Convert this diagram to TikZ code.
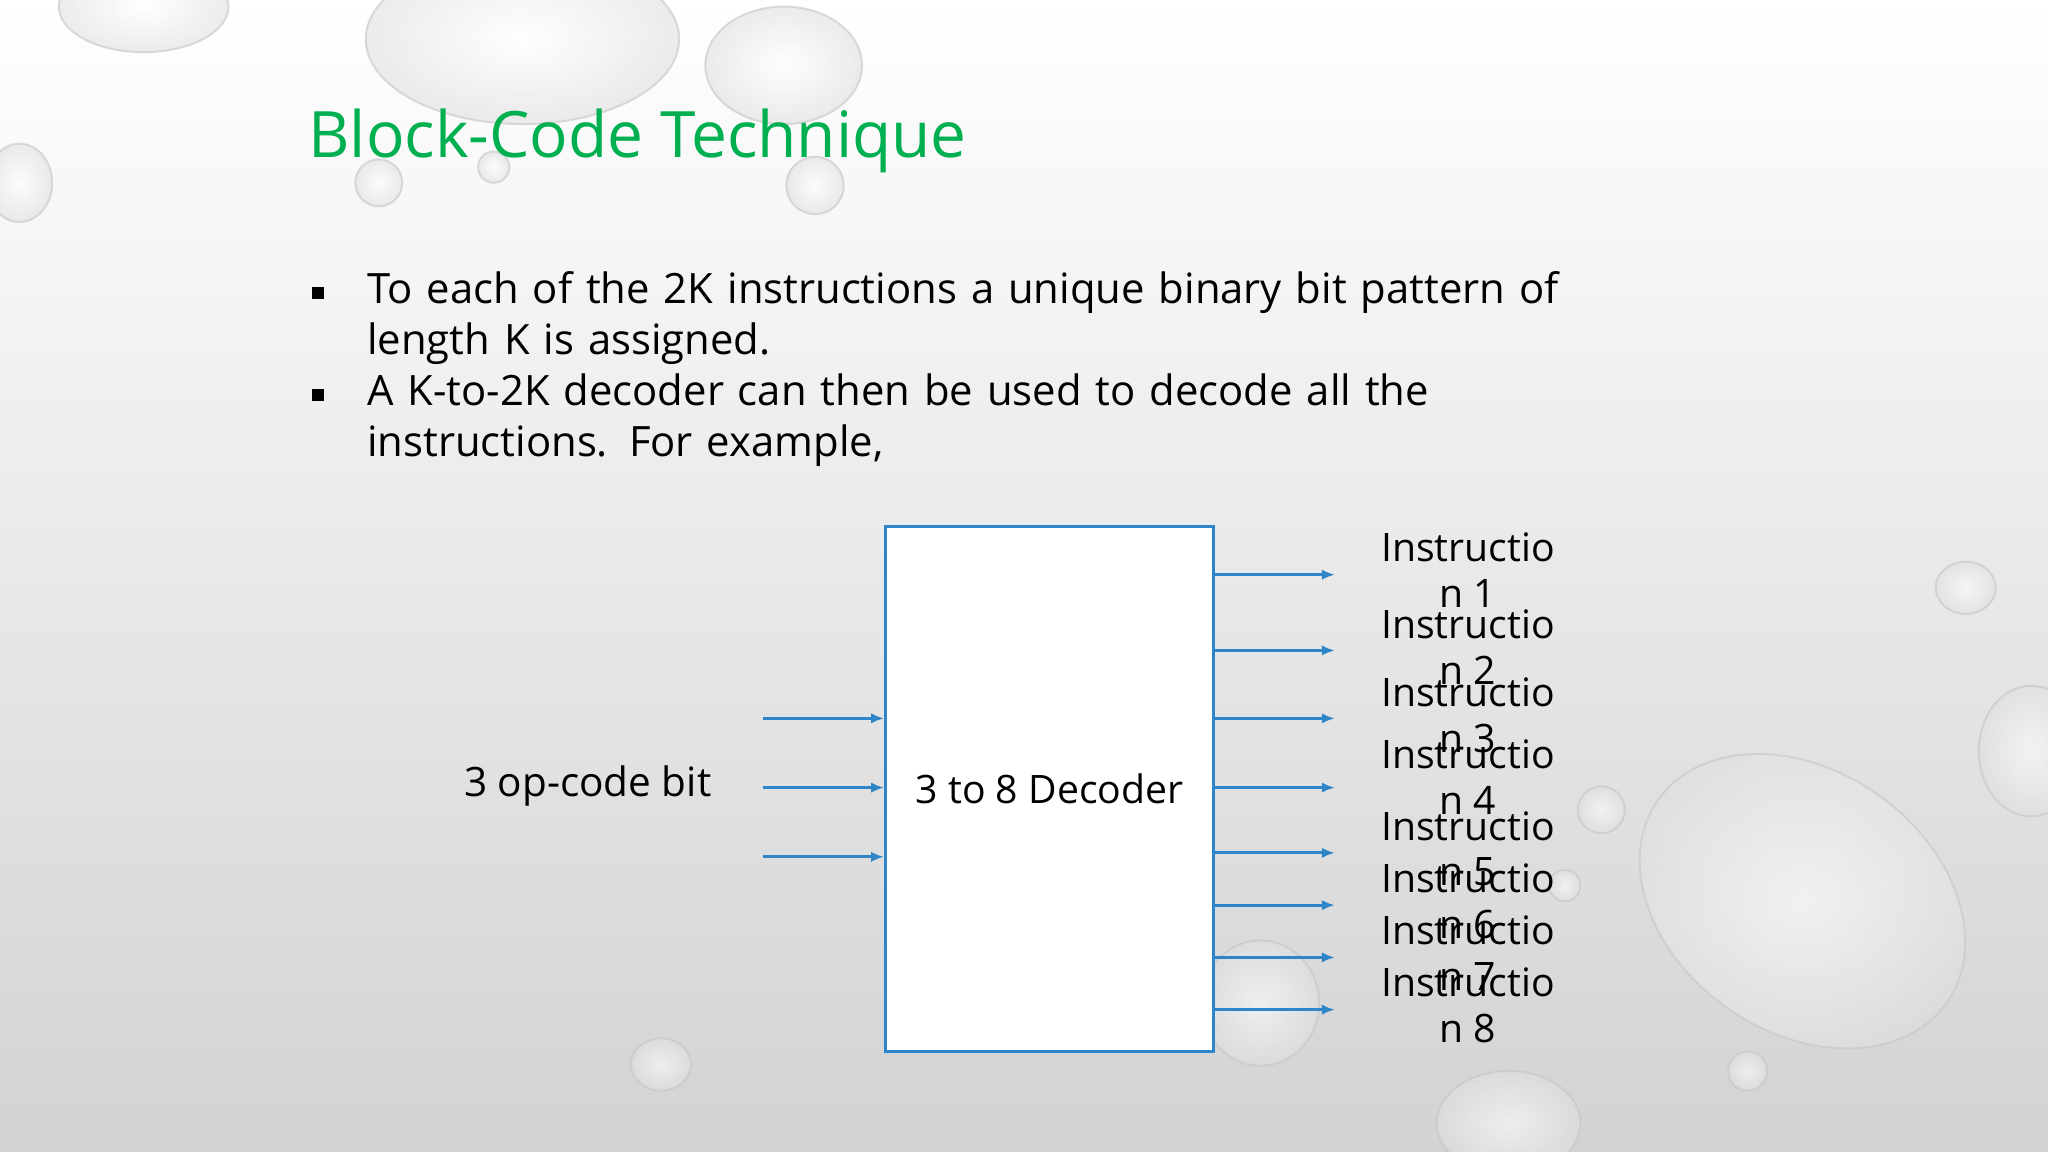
\documentclass[tikz,border=0pt]{standalone}
\usepackage{fontspec}
\setmainfont{Open Sans}
\usetikzlibrary{arrows.meta}
\definecolor{tgreen}{RGB}{0,176,80}
\definecolor{tblue}{RGB}{46,134,200}
\hyphenpenalty=10000
\exhyphenpenalty=10000
\tikzset{
  arr/.style={draw=tblue,line width=2.2pt,-{Latex[length=10pt,width=8pt]}},
  lab/.style={font=\fontsize{30}{35}\selectfont,align=center,inner sep=0},
  drop/.style={inner color=white,outer color=gray!25,draw=gray!45,line width=1.5pt,opacity=0.6},
  btext/.style={anchor=north west,font=\fontsize{32}{39}\selectfont,text width=965pt,align=left,inner sep=0}
}
\begin{document}
\begin{tikzpicture}[x=1pt,y=-1pt]
\useasboundingbox (0,0) rectangle (1568,882);
\shade[top color=white,bottom color=gray!35] (0,0) rectangle (1568,882);
% water drops
\path[drop] (400,30) ellipse (120 and 65);
\path[drop] (600,50) ellipse (60 and 45);
\path[drop] (110,5) ellipse (65 and 35);
\path[drop] (15,140) ellipse (25 and 30);
\path[drop] (290,140) circle (18);
\path[drop] (378,128) circle (12);
\path[drop] (624,142) circle (22);
\path[drop] (1505,450) ellipse (23 and 20);
\path[drop] (1555,575) ellipse (40 and 50);
\path[drop,rotate around={-35:(1380,690)}] (1380,690) ellipse (135 and 100);
\path[drop] (1226,620) circle (18);
\path[drop] (1198,678) circle (12);
\path[drop] (965,768) ellipse (45 and 48);
\path[drop] (506,815) ellipse (23 and 20);
\path[drop] (1338,820) circle (15);
\path[drop] (1155,860) ellipse (55 and 40);
% title
\node[anchor=west,text=tgreen,font=\fontsize{49}{56}\selectfont,inner sep=0] (title) at (236,108) {Block-Code Technique};
% bullets
\node[btext] (b1) at (281,208) {\hyphenpenalty=10000 To each of the 2K instructions a unique binary bit pattern of length K is assigned.};
\node[btext] (b2) at (281,286) {\hyphenpenalty=10000 A K-to-2K decoder can then be used to decode all the instructions. For example,};
\fill (b1.north west)++(-42,12) rectangle ++(9,9);
\fill (b2.north west)++(-42,12) rectangle ++(9,9);
% decoder
\node[draw=tblue,line width=2.2pt,fill=white,minimum width=251pt,minimum height=402pt,inner sep=0,font=\fontsize{30}{35}\selectfont] (dec) at (803.5,604) {3 to 8 Decoder};
\node[lab,font=\fontsize{31}{35}\selectfont] (in) at (450,602) {3 op-code bit};
\foreach \y [count=\i] in {550,603,656} {
  \coordinate (i\i) at (584,\y);
  \draw[arr] (i\i) -- (dec.west |- i\i);
}
\foreach \y/\t [count=\i] in {440/420,498/479,550/531,603/578,653/633,693/673,733/713,773/753} {
  \coordinate (o\i) at (1022,\y);
  \draw[arr] (dec.east |- o\i) -- (o\i);
  \node[lab,anchor=north] (l\i) at (1124,\t-12) {Instructio\\n \i};
}
\end{tikzpicture}
\end{document}
